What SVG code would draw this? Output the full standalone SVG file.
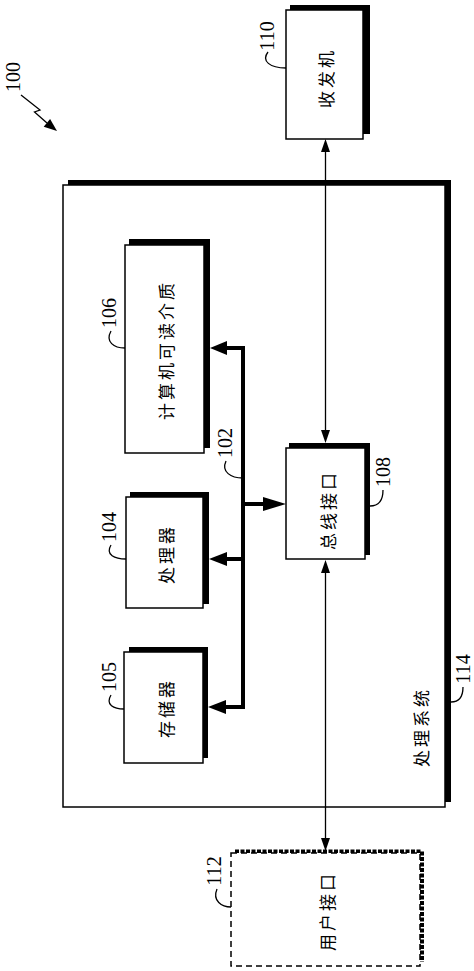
<svg xmlns="http://www.w3.org/2000/svg" width="474" height="971" viewBox="0 0 474 971">
<style>
.shadow{fill:#000}
.box{fill:#fff;stroke:#000;stroke-width:1.5}
.cjk{font-family:"Noto Sans CJK SC","Noto Sans",sans-serif;font-size:17px;letter-spacing:3px;fill:#000}
.num{font-family:"Liberation Serif",serif;font-size:20px;fill:#000}
.leader{fill:none;stroke:#000;stroke-width:1.3}
.thin{fill:none;stroke:#000;stroke-width:1.3}
.bus{fill:none;stroke:#000;stroke-width:4}
.head{fill:#000}
</style>
<rect width="474" height="971" fill="#fff"/>

<g id="label-100">
  <text class="num" text-anchor="middle" dominant-baseline="central" transform="translate(13,77) rotate(-90)">100</text>
  <polyline class="thin" points="21,95 40,110 34.5,112 47,123"/>
  <polygon class="head" points="57,131 43.7,126.7 50.1,118.9"/>
</g>

<g id="node-114">
  <rect class="shadow" x="68" y="180" width="383" height="622"/>
  <rect class="box" x="63" y="185" width="382" height="622"/>
  <text class="cjk" text-anchor="middle" dominant-baseline="central" transform="translate(420,727) rotate(-90)">处理系统</text>
  <text class="num" text-anchor="middle" dominant-baseline="central" transform="translate(463,669) rotate(-90)">114</text>
  <path class="leader" d="M451,702 C458,702 463,698 463,687"/>
</g>

<g id="node-110">
  <rect class="shadow" x="290" y="5" width="80" height="129"/>
  <rect class="box" x="286" y="10" width="77" height="129"/>
  <text class="cjk" text-anchor="middle" dominant-baseline="central" transform="translate(325,78) rotate(-90)">收发机</text>
  <text class="num" text-anchor="middle" dominant-baseline="central" transform="translate(267,36) rotate(-90)">110</text>
  <path class="leader" d="M268,52 C261,61 270,68 286,68"/>
</g>

<g id="node-106">
  <rect class="shadow" x="129" y="239" width="81" height="209"/>
  <rect class="box" x="125" y="245" width="79" height="208"/>
  <text class="cjk" text-anchor="middle" dominant-baseline="central" transform="translate(165,350) rotate(-90)">计算机可读介质</text>
  <text class="num" text-anchor="middle" dominant-baseline="central" transform="translate(109,313) rotate(-90)">106</text>
  <path class="leader" d="M111,331 C105,342 114,348 125,348"/>
</g>

<g id="node-104">
  <rect class="shadow" x="130" y="492" width="79" height="112"/>
  <rect class="box" x="126" y="497" width="77" height="111"/>
  <text class="cjk" text-anchor="middle" dominant-baseline="central" transform="translate(165,554) rotate(-90)">处理器</text>
  <text class="num" text-anchor="middle" dominant-baseline="central" transform="translate(109,527) rotate(-90)">104</text>
  <path class="leader" d="M111,545 C105,555 115,559 126,559"/>
</g>

<g id="node-105">
  <rect class="shadow" x="129" y="647" width="79" height="111"/>
  <rect class="box" x="124" y="652" width="79" height="111"/>
  <text class="cjk" text-anchor="middle" dominant-baseline="central" transform="translate(165,708) rotate(-90)">存储器</text>
  <text class="num" text-anchor="middle" dominant-baseline="central" transform="translate(109,677) rotate(-90)">105</text>
  <path class="leader" d="M111,695 C105,705 114,709 124,709"/>
</g>

<g id="node-108">
  <rect class="shadow" x="289" y="443" width="81" height="112"/>
  <rect class="box" x="286" y="448" width="79" height="111"/>
  <text class="cjk" text-anchor="middle" dominant-baseline="central" transform="translate(327,510) rotate(-90)">总线接口</text>
  <text class="num" text-anchor="middle" dominant-baseline="central" transform="translate(383,472) rotate(-90)">108</text>
  <path class="leader" d="M370,506 C378,506 383,501 383,490"/>
</g>

<g id="node-112">
  <path d="M235,851.5 H422 V962" fill="none" stroke="#000" stroke-width="4" stroke-dasharray="4 1.5"/>
  <rect x="231" y="853" width="189" height="113" fill="#fff" stroke="#000" stroke-width="1.5" stroke-dasharray="6 4"/>
  <text class="cjk" text-anchor="middle" dominant-baseline="central" transform="translate(326,911) rotate(-90)">用户接口</text>
  <text class="num" text-anchor="middle" dominant-baseline="central" transform="translate(214,871) rotate(-90)">112</text>
  <path class="leader" d="M217,889 C212,901 222,907 231,907"/>
</g>

<g id="label-102">
  <text class="num" text-anchor="middle" dominant-baseline="central" transform="translate(225,443) rotate(-90)">102</text>
  <path class="leader" d="M226,461 C221,472 231,478 243,478"/>
</g>

<g id="connectors">
  <path class="bus" d="M226,348 H243 V707 H226"/>
  <path class="bus" d="M243,559 H226"/>
  <path class="bus" d="M243,504 H266"/>
  <polygon class="head" points="210,348 227,341 227,355"/>
  <polygon class="head" points="209,559 227,552 227,566"/>
  <polygon class="head" points="208,707 226,700 226,714"/>
  <polygon class="head" points="286,504 263,497 263,511"/>

  <line class="thin" x1="325.5" y1="150" x2="325.5" y2="432"/>
  <polygon class="head" points="325.5,139 321,152 330,152"/>
  <polygon class="head" points="325.5,443 321,430 330,430"/>

  <line class="thin" x1="325.5" y1="570" x2="325.5" y2="840"/>
  <polygon class="head" points="325.5,560 321,573 330,573"/>
  <polygon class="head" points="325.5,851 321,838 330,838"/>
</g>
</svg>
